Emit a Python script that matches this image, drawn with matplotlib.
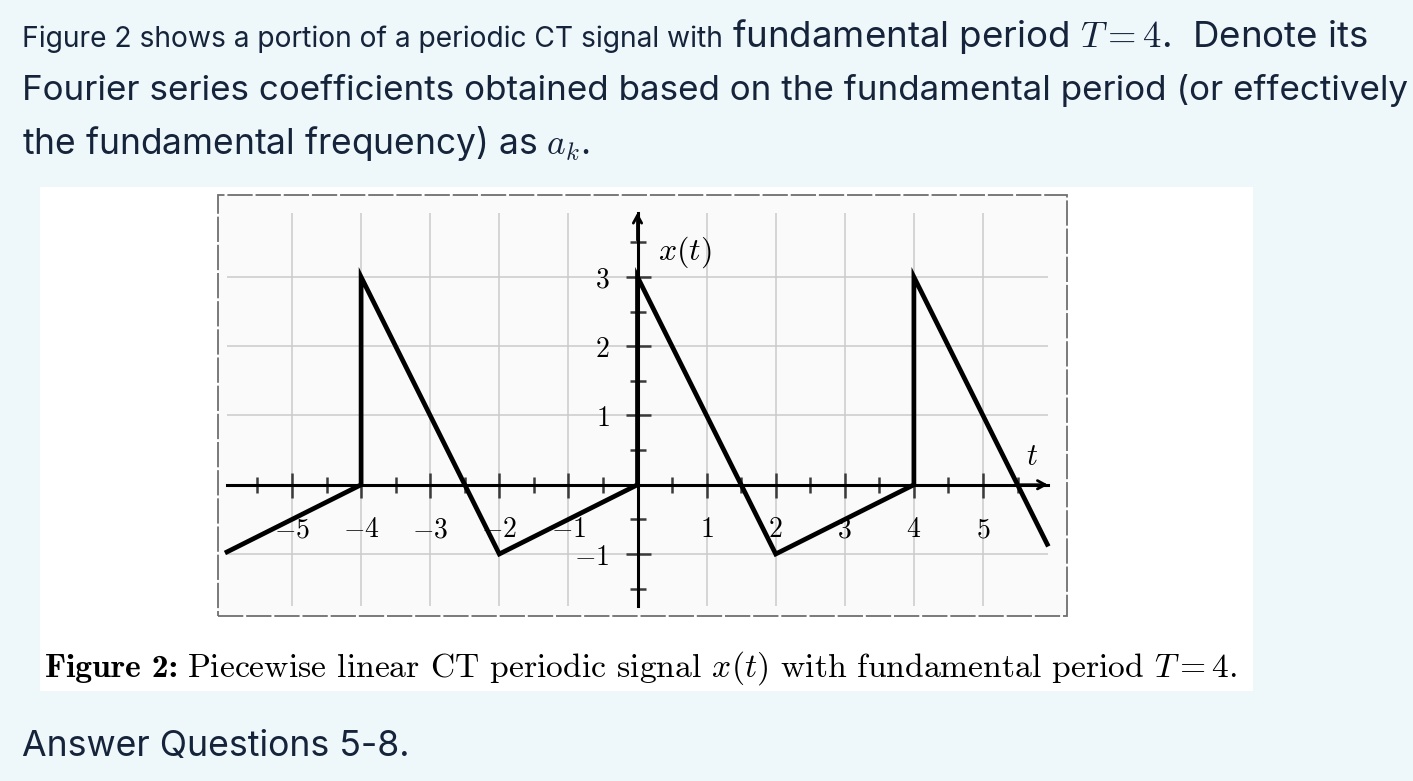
import matplotlib
matplotlib.use("Agg")
import matplotlib.pyplot as plt
from matplotlib.patches import Rectangle

W, H = 1413, 781
DPI = 100

# signal x(t): corner points
t_pts = [-5.94, -4, -4, -2, 0, 0, 2, 4, 4, 5.93]
x_pts = [-0.97, 0, 3, -1, 0, 3, -1, 0, 3, -0.86]

# ticks
x_major = [-5, -4, -3, -2, -1, 1, 2, 3, 4, 5]
x_minor = [-5.5, -4.5, -3.5, -2.5, -1.5, -0.5, 0.5, 1.5, 2.5, 3.5, 4.5, 5.5]
y_major = [-1, 1, 2, 3]
y_minor = [-1.5, -0.5, 0.5, 1.5, 2.5, 3.5]

T_LIM = (-5.94, 5.94)
X_LIM = (-1.75, 3.93)

TEXT_COLOR = "#15243a"
BG = "#eef7fa"

plt.rcParams["mathtext.fontset"] = "cm"


def fx(x):
    return x / W


def fy(y):
    return 1 - y / H


def fit_width(txt, left_px, right_px):
    # scale font size so the text spans left_px..right_px
    for _ in range(3):
        bb = txt.get_window_extent(fig.canvas.get_renderer())
        txt.set_fontsize(txt.get_fontsize() * (right_px - left_px) / bb.width)


fig = plt.figure(figsize=(W / DPI, H / DPI), dpi=DPI, facecolor=BG)

# white box holding the figure and its caption
fig.add_artist(Rectangle((fx(40), fy(691)), (1253 - 40) / W, (691 - 187) / H,
                         transform=fig.transFigure, facecolor="white",
                         edgecolor="none", zorder=-2))
# light gray panel with dashed frame
fig.add_artist(Rectangle((fx(218), fy(616)), (1067 - 218) / W, (616 - 195) / H,
                         transform=fig.transFigure, facecolor="#fafafa",
                         edgecolor="#6f6f6f", lw=1.3,
                         linestyle=(0, (14, 1.6)), zorder=-1))

# axes placed so that 1 unit ~ 69 px, origin at (637.5, 484.75)
left = 637.5 + T_LIM[0] * 69.1
right = 637.5 + T_LIM[1] * 69.1
top = 484.75 - X_LIM[1] * 69.25
bottom = 484.75 - X_LIM[0] * 69.25
ax = fig.add_axes([fx(left), fy(bottom), (right - left) / W, (bottom - top) / H])
ax.set_facecolor("none")
ax.set_xlim(*T_LIM)
ax.set_ylim(*X_LIM)

for side in ["top", "right"]:
    ax.spines[side].set_visible(False)
for side in ["left", "bottom"]:
    ax.spines[side].set_position(("data", 0))
    ax.spines[side].set_linewidth(2.2)
    ax.spines[side].set_color("black")

ax.set_xticks(x_major, labels=[f"${v}$" for v in x_major])
ax.set_xticks(x_minor, minor=True)
ax.set_yticks(y_major, labels=[f"${v}$" for v in y_major])
ax.set_yticks(y_minor, minor=True)
ax.tick_params(which="major", direction="inout", length=18, width=1.8,
               color="#3a3a3a", labelsize=20, labelcolor="black")
ax.tick_params(which="minor", direction="inout", length=11, width=1.8,
               color="#3a3a3a")
ax.tick_params(axis="x", which="major", pad=13)
ax.tick_params(axis="y", which="major", pad=11)

ax.set_axisbelow(True)
ax.grid(True, which="major", color="#cbcbcb", lw=1.1)

ax.plot(t_pts, x_pts, color="black", lw=3.4, solid_joinstyle="miter",
        clip_on=False, zorder=3)

# axis arrows
arrow = dict(arrowstyle="->,head_length=0.55,head_width=0.3", lw=2.0,
             color="black", shrinkA=0, shrinkB=0)
ax.annotate("", xy=(T_LIM[1], 0), xytext=(T_LIM[1] - 0.4, 0),
            arrowprops=arrow, annotation_clip=False)
ax.annotate("", xy=(0, X_LIM[1]), xytext=(0, X_LIM[1] - 0.4),
            arrowprops=arrow, annotation_clip=False)

ax.text(0.29, 3.36, "$x(t)$", fontsize=23, va="center", ha="left")
ax.text(5.71, 0.41, "$t$", fontsize=22, va="center", ha="center")

# caption
cap1 = fig.text(fx(45), fy(677), "Figure 2:", family="cmb10", fontsize=20,
                color="black", va="baseline")
cap2 = fig.text(fx(187), fy(677), "Piecewise linear CT periodic signal $x(t)$ "
                "with fundamental period $T = 4$.",
                family="cmr10", fontsize=20, color="black", va="baseline")

# surrounding page text
sans = "Inter"
l1a = fig.text(fx(22), fy(47), "Figure 2 shows a portion of a periodic CT signal with",
               family=sans, fontsize=19.5, color=TEXT_COLOR, va="baseline")
l1b = fig.text(fx(732), fy(47), "fundamental period $T = 4$.  Denote its",
               family=sans, fontsize=25, color=TEXT_COLOR, va="baseline")
l2 = fig.text(fx(22), fy(100), "Fourier series coefficients obtained based on the "
              "fundamental period (or effectively",
              family=sans, fontsize=25, color=TEXT_COLOR, va="baseline")
l3 = fig.text(fx(22), fy(154), "the fundamental frequency) as $a_k$.",
              family=sans, fontsize=25, color=TEXT_COLOR, va="baseline")
l4 = fig.text(fx(22), fy(756), "Answer Questions 5-8.",
              family=sans, fontsize=25, color=TEXT_COLOR, va="baseline")

fit_width(cap1, 45, 178)
fit_width(cap2, 187, 1237)
fit_width(l1a, 22, 722)
fit_width(l1b, 732, 1368)
fit_width(l2, 22, 1408)
fit_width(l3, 22, 590)
fit_width(l4, 22, 410)

fig.savefig("out.png", dpi=DPI, facecolor=BG)
